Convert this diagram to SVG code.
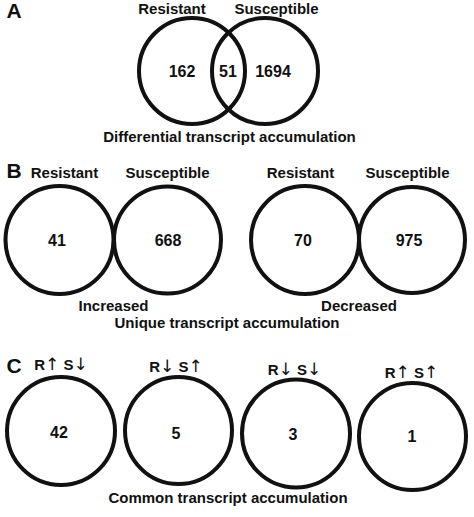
<svg xmlns="http://www.w3.org/2000/svg" width="474" height="517" viewBox="0 0 474 517">
<style>
text{font-family:"Liberation Sans",Arial,sans-serif;font-weight:bold;fill:#111;text-anchor:middle}
.t{font-size:15px}
.n{font-size:16px}
.p{font-size:21px}
.ar{font-family:"DejaVu Sans",sans-serif;font-weight:normal;font-size:17px}
circle{fill:none;stroke:#111;stroke-width:4}
</style>
<rect width="474" height="517" fill="#fff"/>
<g id="panelA">
<text class="p" x="14" y="18">A</text>
<text class="t" x="172" y="13.5">Resistant</text>
<text class="t" x="276.5" y="13.5">Susceptible</text>
<g id="A-resistant"><circle cx="192" cy="71" r="53"/><text class="n" x="182" y="77">162</text></g>
<g id="A-susceptible"><circle cx="265" cy="71" r="53"/><text class="n" x="273" y="77">1694</text></g>
<g id="A-overlap"><text class="n" x="228" y="77">51</text></g>
<text class="t" x="229.5" y="142">Differential transcript accumulation</text>
</g>
<g id="panelB">
<text class="p" x="14" y="178">B</text>
<text class="t" x="64.5" y="178">Resistant</text>
<text class="t" x="167.5" y="178">Susceptible</text>
<text class="t" x="300.5" y="178">Resistant</text>
<text class="t" x="407.5" y="178">Susceptible</text>
<g id="B-inc-res"><circle cx="59.5" cy="240" r="54"/><text class="n" x="57" y="246">41</text></g>
<g id="B-inc-sus"><circle cx="167.5" cy="240" r="53.5"/><text class="n" x="168" y="246">668</text></g>
<g id="B-dec-res"><circle cx="305" cy="240" r="54"/><text class="n" x="303" y="246">70</text></g>
<g id="B-dec-sus"><circle cx="412" cy="240" r="53"/><text class="n" x="409" y="246">975</text></g>
<text class="t" x="113.5" y="311">Increased</text>
<text class="t" x="359" y="311">Decreased</text>
<text class="t" x="227" y="328">Unique transcript accumulation</text>
</g>
<g id="panelC">
<text class="p" x="14" y="373">C</text>
<g id="C1"><text class="t" x="61" y="370">R<tspan class="ar">↑</tspan> S<tspan class="ar">↓</tspan></text><circle cx="61" cy="431" r="54"/><text class="n" x="59" y="438">42</text></g>
<g id="C2"><text class="t" x="176" y="372">R<tspan class="ar">↓</tspan> S<tspan class="ar">↑</tspan></text><circle cx="178.5" cy="430.5" r="53.5"/><text class="n" x="176" y="439">5</text></g>
<g id="C3"><text class="t" x="294.5" y="375">R<tspan class="ar">↓</tspan> S<tspan class="ar">↓</tspan></text><circle cx="296" cy="433.5" r="54"/><text class="n" x="293" y="440">3</text></g>
<g id="C4"><text class="t" x="411.5" y="378">R<tspan class="ar">↑</tspan> S<tspan class="ar">↑</tspan></text><circle cx="412.5" cy="436.5" r="53.5"/><text class="n" x="412" y="442">1</text></g>
<text class="t" x="228" y="503">Common transcript accumulation</text>
</g>
<g id="connectors"/>
</svg>
